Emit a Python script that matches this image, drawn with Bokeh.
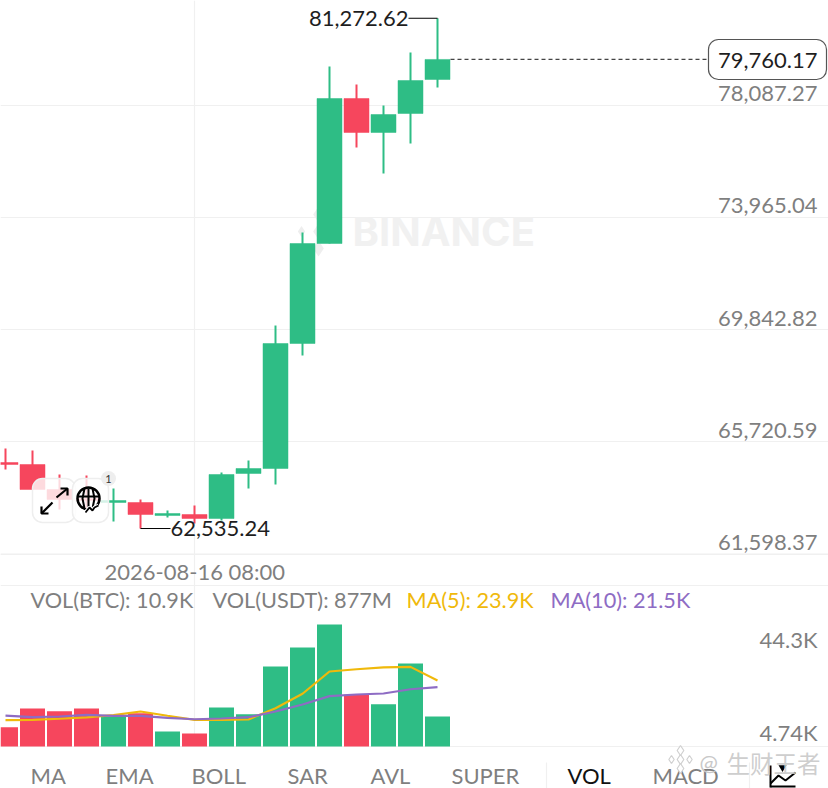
from bokeh.plotting import figure
from bokeh.models import Range1d, FixedTicker
from bokeh.core.properties import value
from bokeh.embed import file_html
from bokeh.resources import INLINE

FONT = "Lato"
CJK = "Noto Sans CJK SC"
GREEN, RED = "#2ebd85", "#f6465d"
GREY = "#7f7f7f"
GRID = "#f0f0f0"

# ---- chart data ----
opens  = [64959, 64886, 63968, 63638, 63491, 63491, 63014, 63050, 62903, 64556, 64739, 69329, 73001, 78326, 77077, 77775, 79023.6]
closes = [64886, 63968, 63601, 63564, 63564, 63050, 63087, 62903, 64519, 64739, 69329, 73001, 78326, 77077, 77738, 78987, 79760.17]
highs  = [65474, 65400, 64519, 64482, 64005, 63601, 63197, 63381, 64592, 65033, 69990, 73405, 79501, 78840, 78069, 80015, 81272.62]
lows   = [64702, 63968, 63234, 63124, 62793, 62535.24, 62940, 62720, 62830, 64005, 64152, 68889, 73001, 76526, 75572, 76673, 78730]
vols   = [16.2, 31.9, 29.7, 31.9, 25.2, 28.0, 12.6, 10.9, 32.8, 27.1, 67.2, 83.2, 102.5, 43.4, 35.5, 69.7, 25.2]
ma5    = [22.1, 22.4, 23.3, 24.4, 26.3, 29.4, 25.8, 22.4, 22.4, 22.7, 32.2, 44.3, 63.0, 64.9, 66.4, 66.9, 55.4]
ma10   = [26.0, 24.6, 25.2, 26.6, 25.8, 25.8, 24.1, 22.9, 23.5, 24.6, 29.4, 35.3, 42.3, 43.7, 44.5, 48.1, 49.8]
price_ticks = [78087.27, 73965.04, 69842.82, 65720.59, 61598.37]
price_labels = ["78,087.27", "73,965.04", "69,842.82", "65,720.59", "61,598.37"]
vol_labels = ["44.3K", "4.74K"]
tabs = ["MA", "EMA", "BOLL", "SAR", "AVL", "SUPER", "VOL", "MACD"]
legend_texts = ["VOL(BTC): 10.9K", "VOL(USDT): 877M", "MA(5): 23.9K", "MA(10): 21.5K"]
last_price = 79760.17
hi_price, lo_price = 81272.62, 62535.24

W, H = 828, 788
idx = list(range(len(opens)))
colors = [GREEN if c >= o else RED for o, c in zip(opens, closes)]

PX_PER_CANDLE = 27.0
PX_PRICE = 36.72   # price per pixel
PX_VOL = 0.84      # K per pixel

p = figure(width=W, height=H, output_backend="svg", toolbar_location=None,
           x_range=Range1d(-5 / PX_PER_CANDLE, (W - 5) / PX_PER_CANDLE),
           y_range=Range1d(78087.27 - (788 - 104.5) * PX_PRICE, 78087.27 + 104.5 * PX_PRICE),
           min_border=0, margin=(0, 0, 0, 0), outline_line_color=None,
           background_fill_color="white", border_fill_color="white")
p.axis.visible = False
p.xgrid.visible = False
p.ygrid.ticker = FixedTicker(ticks=price_ticks)
p.ygrid.grid_line_color = GRID
p.ygrid.grid_line_width = 1
p.extra_x_ranges["px"] = Range1d(0, W)
p.extra_y_ranges["py"] = Range1d(H, 0)
p.extra_y_ranges["vol"] = Range1d(-(H - 746) * PX_VOL, 746 * PX_VOL)

# separators & crosshair
p.segment(x0=[194, 0, 0, 0, 546, 749], x1=[194, W, W, W, 546, 749],
          y0=[0, 553.5, 585, 746, 762, 762], y1=[746, 553.5, 585, 746, 788, 788],
          x_range_name="px", y_range_name="py", line_color=GRID, line_width=1.2)

# BINANCE watermark
p.scatter(x=[318, 301, 335, 318, 318], y=[231, 231, 231, 214, 248], size=[16, 11, 11, 16, 16], marker="diamond",
          x_range_name="px", y_range_name="py", fill_color="#eeeeee", line_color=None)
p.text(x=[352], y=[231], text=["BINANCE"], x_range_name="px", y_range_name="py",
       text_font=value("Inter"), text_font_style="bold", text_font_size="40px",
       text_color="#f1f1f1", text_align="left", text_baseline="middle")

# candles
p.segment(idx, lows, idx, highs, color=colors, line_width=2)
bw = 25 / PX_PER_CANDLE
p.vbar(x=idx, width=bw, bottom=[min(a, b) for a, b in zip(opens, closes)],
       top=[max(a, b) for a, b in zip(opens, closes)], fill_color=colors, line_color=colors, line_width=0.5)

# volume
p.vbar(x=idx, width=bw, bottom=0, top=vols, y_range_name="vol", fill_color=colors, line_color=None)
p.line(idx, ma5, y_range_name="vol", line_color="#f0b90b", line_width=2.2)
p.line(idx, ma10, y_range_name="vol", line_color="#8e6cc4", line_width=2.2)

# price tick labels
p.text(x=[817] * 5, y=price_ticks, text=price_labels, x_range_name="px", y_offset=-4,
       text_font=value(FONT), text_font_size="22px", text_color=GREY, text_align="right", text_baseline="bottom")
p.text(x=[817, 817], y=[639, 732], text=vol_labels, x_range_name="px", y_range_name="py",
       text_font=value(FONT), text_font_size="22px", text_color=GREY, text_align="right", text_baseline="middle")

# high / low / last annotations
p.segment(x0=[408], x1=[idx[-1] * PX_PER_CANDLE + 5], y0=[hi_price], y1=[hi_price], x_range_name="px", line_color="black", line_width=1)
p.text(x=[408], y=[hi_price], text=["81,272.62"], x_range_name="px", text_font=value(FONT), text_font_size="22px",
       text_color="#1e1e1e", text_align="right", text_baseline="middle")
p.segment(x0=[5 + 5 * PX_PER_CANDLE], x1=[170], y0=[lo_price], y1=[lo_price], x_range_name="px", line_color="black", line_width=1)
p.text(x=[170], y=[lo_price], text=["62,535.24"], x_range_name="px", text_font=value(FONT), text_font_size="22px",
       text_color="#1e1e1e", text_align="left", text_baseline="middle")
p.segment(x0=[450], x1=[708], y0=[last_price], y1=[last_price], x_range_name="px", line_color="#444444", line_width=1.2, line_dash="4 3")
p.quad(left=[708], right=[826], top=[39], bottom=[79], x_range_name="px", y_range_name="py",
       fill_color="white", line_color="#555555", line_width=1.2, border_radius=10)
p.text(x=[817], y=[60], text=["79,760.17"], x_range_name="px", y_range_name="py", text_font=value(FONT),
       text_font_size="22px", text_color="#1e1e1e", text_align="right", text_baseline="middle")

# date and legend
p.text(x=[104], y=[570.5], text=["2026-08-16 08:00"], x_range_name="px", y_range_name="py", text_font=value(FONT),
       text_font_size="22px", text_color=GREY, text_align="left", text_baseline="middle")
p.text(x=[30, 212, 406, 550], y=[599] * 4, text=legend_texts, x_range_name="px", y_range_name="py",
       text_font=value(FONT), text_font_size="21.7px",
       text_color=[GREY, GREY, "#f0b90b", "#8e6cc4"], text_align="left", text_baseline="middle")

# tabs
p.text(x=[30, 105, 191, 287, 370, 451, 567, 652], y=[775] * 8, text=tabs, x_range_name="px", y_range_name="py",
       text_font=value(FONT), text_font_size="22px",
       text_color=[GREY] * 6 + ["#111111", GREY], text_align="left", text_baseline="middle")

# floating buttons
p.quad(left=[32, 72], right=[75, 108], top=[478, 478], bottom=[522, 522], x_range_name="px", y_range_name="py",
       fill_color="white", fill_alpha=0.8, line_color="#eeeeee", line_width=1.5, border_radius=10)
p.multi_line(xs=[[41, 52], [41, 41, 48], [56, 67], [60, 67, 67]],
             ys=[[513, 502], [506, 513, 513], [497, 488], [488, 488, 495]],
             x_range_name="px", y_range_name="py", line_color="black", line_width=2.2)
p.scatter(x=[88], y=[498], size=22, marker="circle", x_range_name="px", y_range_name="py",
          fill_alpha=0, line_color="black", line_width=2.5)
p.multi_line(xs=[[78, 98], [88, 88], [84, 82, 84], [92, 94, 92]], ys=[[496, 496], [488, 508], [488, 498, 508], [488, 498, 508]],
             x_range_name="px", y_range_name="py", line_color="black", line_width=2)
p.line(x=[85, 89, 92, 94, 98], y=[512, 507, 510, 507, 505], x_range_name="px", y_range_name="py", line_color="white", line_width=4)
p.line(x=[85, 89, 92, 94, 98], y=[512, 507, 510, 507, 505], x_range_name="px", y_range_name="py", line_color="black", line_width=1.8)
p.scatter(x=[108], y=[478], size=15, marker="circle", x_range_name="px", y_range_name="py", fill_color="#eeeeee", line_color=None)
p.text(x=[108], y=[478], text=["1"], x_range_name="px", y_range_name="py", text_font=value(FONT), text_font_size="11px",
       text_color="#333333", text_align="center", text_baseline="middle")

# bottom-right chart icon
p.multi_line(xs=[[770, 770], [770, 795], [770, 778, 785, 795]], ys=[[765, 787], [786, 786], [783, 775, 780, 772]],
             x_range_name="px", y_range_name="py", line_color="black", line_width=2)
p.scatter(x=[782], y=[767], size=8, marker="inverted_triangle", x_range_name="px", y_range_name="py", fill_color="black", line_color=None)

# image watermark
p.scatter(x=[680, 671, 689, 680, 680], y=[759, 759, 759, 750, 768], size=[10, 8, 8, 10, 10], marker="diamond",
          x_range_name="px", y_range_name="py", fill_color="white", line_color="#d0d0d0", line_width=1.2)
p.text(x=[699], y=[762], text=["@"], x_range_name="px", y_range_name="py", text_font=value(FONT), text_font_size="22px",
       text_color="#c8c8c8", text_align="left", text_baseline="middle")
p.text(x=[726], y=[762], text=["生财王者"], x_range_name="px", y_range_name="py", text_font=value(CJK), text_font_size="23.5px",
       text_color="#c8c8c8", text_alpha=0.9, text_align="left", text_baseline="middle")

open("out.html", "w").write(file_html(p, INLINE))
